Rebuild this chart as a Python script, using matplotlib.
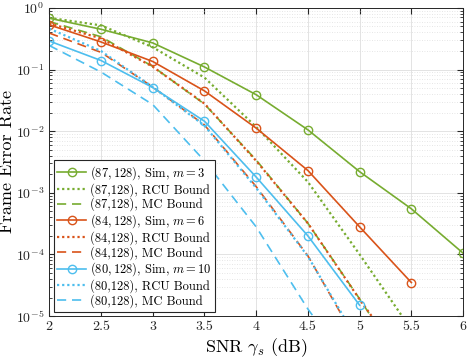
import matplotlib
matplotlib.use("Agg")
import matplotlib.pyplot as plt
from matplotlib.ticker import LogLocator, NullFormatter

plt.rcParams["font.family"] = "serif"
plt.rcParams["font.serif"] = ["cmr10"]
plt.rcParams["mathtext.fontset"] = "cm"
plt.rcParams["axes.formatter.use_mathtext"] = True

# simulated frame error rates
snr_sim_87 = [2, 2.5, 3, 3.5, 4, 4.5, 5, 5.5, 6]
fer_sim_87 = [0.68, 0.45, 0.27, 0.11, 0.039, 0.0105, 0.0022, 5.5e-4, 1.05e-4]
snr_sim_84 = [2, 2.5, 3, 3.5, 4, 4.5, 5, 5.5]
fer_sim_84 = [0.53, 0.28, 0.135, 0.045, 0.0112, 0.0023, 2.8e-4, 3.5e-5]
snr_sim_80 = [2, 2.5, 3, 3.5, 4, 4.5, 5]
fer_sim_80 = [0.29, 0.14, 0.051, 0.0145, 0.0018, 2.0e-4, 1.5e-5]

# RCU bounds
snr_rcu_87 = [2, 2.5, 3, 3.5, 4, 4.5, 5, 5.41]
fer_rcu_87 = [0.69, 0.52, 0.23, 0.074, 0.0117, 1.5e-3, 1.0e-4, 1.0e-5]
snr_rcu_84 = [2, 2.5, 3, 3.5, 4, 4.5, 5, 5.13]
fer_rcu_84 = [0.56, 0.32, 0.111, 0.028, 3.3e-3, 3.2e-4, 1.86e-5, 9.3e-6]
snr_rcu_80 = [2, 2.5, 3, 3.5, 4, 4.5, 4.85]
fer_rcu_80 = [0.46, 0.20, 0.052, 0.0123, 1.2e-3, 9.3e-5, 9.5e-6]

# MC bounds
snr_mc_87 = [2, 2.5, 3, 3.5, 4, 4.5, 5, 5.12]
fer_mc_87 = [0.60, 0.34, 0.112, 0.0275, 3.4e-3, 3.2e-4, 1.9e-5, 9.3e-6]
snr_mc_84 = [2, 2.5, 3, 3.5, 4, 4.5, 4.84]
fer_mc_84 = [0.39, 0.19, 0.052, 0.0126, 1.26e-3, 9.5e-5, 9.5e-6]
snr_mc_80 = [2, 2.5, 3, 3.5, 4, 4.5, 4.57]
fer_mc_80 = [0.245, 0.091, 0.027, 3.3e-3, 2.8e-4, 1.3e-5, 9e-6]

green = "#77AC30"
orange = "#D95319"
blue = "#4DBEEE"

dot = (0, (1, 1.3))
dash = (0, (5.5, 3.5))

fig = plt.figure(figsize=(4.74, 3.58), dpi=100)
ax = fig.add_axes([0.104, 0.117, 0.873, 0.861])

ax.semilogy(snr_sim_87, fer_sim_87, "-o", color=green, lw=1.2, ms=6, mfc="none",
            label=r"$(87,128)$, Sim, $m=3$")
ax.semilogy(snr_rcu_87, fer_rcu_87, color=green, lw=1.6, ls=dot,
            label="(87,128), RCU Bound")
ax.semilogy(snr_mc_87, fer_mc_87, color=green, lw=1.2, ls=dash,
            label="(87,128), MC Bound")
ax.semilogy(snr_sim_84, fer_sim_84, "-o", color=orange, lw=1.2, ms=6, mfc="none",
            label=r"$(84,128)$, Sim, $m=6$")
ax.semilogy(snr_rcu_84, fer_rcu_84, color=orange, lw=1.6, ls=dot,
            label="(84,128), RCU Bound")
ax.semilogy(snr_mc_84, fer_mc_84, color=orange, lw=1.2, ls=dash,
            label="(84,128), MC Bound")
ax.semilogy(snr_sim_80, fer_sim_80, "-o", color=blue, lw=1.2, ms=6, mfc="none",
            label=r"$(80,128)$, Sim, $m=10$")
ax.semilogy(snr_rcu_80, fer_rcu_80, color=blue, lw=1.6, ls=dot,
            label="(80,128), RCU Bound")
ax.semilogy(snr_mc_80, fer_mc_80, color=blue, lw=1.2, ls=dash,
            label="(80,128), MC Bound")

ax.set_xlim(2, 6)
ax.set_ylim(1e-5, 1)
ax.set_xticks([2, 2.5, 3, 3.5, 4, 4.5, 5, 5.5, 6])
ax.set_xticklabels(["2", "2.5", "3", "3.5", "4", "4.5", "5", "5.5", "6"])
ax.yaxis.set_major_locator(LogLocator(base=10, numticks=10))
ax.yaxis.set_minor_locator(LogLocator(base=10, subs=range(2, 10), numticks=10))
ax.yaxis.set_minor_formatter(NullFormatter())

ax.grid(True, which="major", color="#dedede", lw=0.6)
ax.grid(True, which="minor", axis="y", color="#dedede", lw=0.6, ls=(0, (1, 2)))
ax.set_axisbelow(True)

ax.tick_params(which="both", direction="in", top=True, right=True,
               labelsize=10, colors="#262626")
ax.tick_params(which="major", length=4)
ax.tick_params(which="minor", length=2)
for s in ax.spines.values():
    s.set_color("#262626")
    s.set_linewidth(0.7)

ax.set_xlabel(r"SNR $\gamma_s$ (dB)", fontsize=13, labelpad=2)
ax.set_ylabel("Frame Error Rate", fontsize=13)
ax.yaxis.set_label_coords(-0.082, 0.5)

leg = ax.legend(loc="lower left", fontsize=9, handlelength=2.3, labelspacing=0.08,
                handletextpad=0.3, borderpad=0.3, borderaxespad=0.35,
                fancybox=False, framealpha=1)
leg.get_frame().set_edgecolor("#262626")
leg.get_frame().set_linewidth(0.8)

fig.savefig("out.png", dpi=100)
